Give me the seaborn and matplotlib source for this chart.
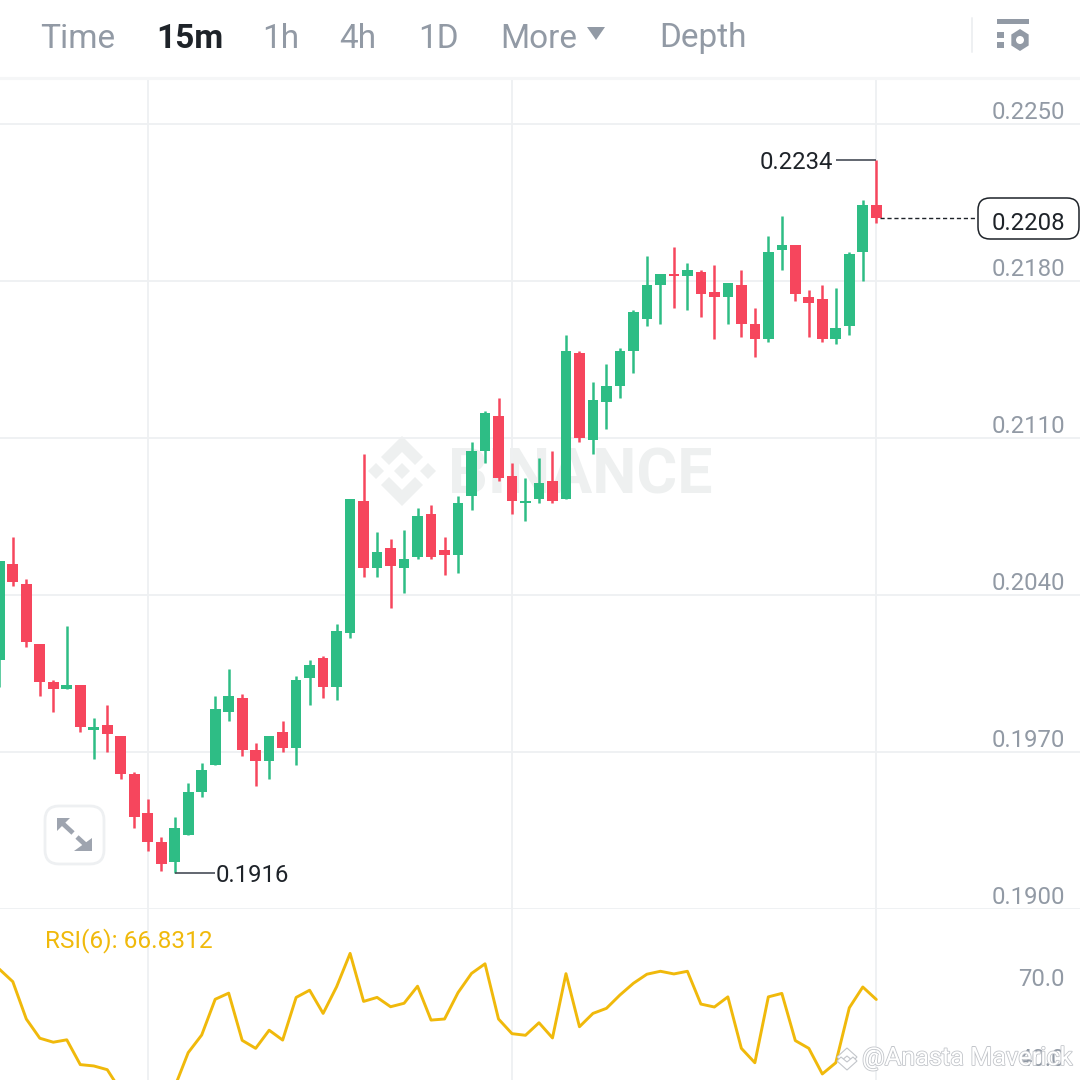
import numpy as np
import pandas as pd
import matplotlib
matplotlib.use("Agg")
import matplotlib.pyplot as plt
import matplotlib.patheffects as pe
from matplotlib.patches import FancyBboxPatch, Polygon, Rectangle, Circle
import seaborn as sns

# 15m candles
opens = [0.2011, 0.2054, 0.2045, 0.2018, 0.2001, 0.1998, 0.2000, 0.1980, 0.1982, 0.1977, 0.1960, 0.1943,
         0.1930, 0.1921, 0.1933, 0.1952, 0.1964, 0.1988, 0.1994, 0.1971, 0.1966, 0.1979, 0.1972, 0.2003,
         0.2012, 0.1999, 0.2023, 0.2082, 0.2052, 0.2061, 0.2052, 0.2057, 0.2076, 0.2060, 0.2058, 0.2084,
         0.2104, 0.2120, 0.2093, 0.2081, 0.2083, 0.2091, 0.2083, 0.2148, 0.2109, 0.2126, 0.2133, 0.2149,
         0.2163, 0.2178, 0.2183, 0.2182, 0.2184, 0.2175, 0.2173, 0.2178, 0.2161, 0.2154, 0.2194, 0.2196,
         0.2173, 0.2172, 0.2154, 0.2160, 0.2193, 0.2214]
highs = [0.2055, 0.2066, 0.2047, 0.2018, 0.2002, 0.2026, 0.2000, 0.1985, 0.1991, 0.1977, 0.1961, 0.1949,
         0.1932, 0.1941, 0.1956, 0.1965, 0.1995, 0.2007, 0.1996, 0.1974, 0.1977, 0.1984, 0.2004, 0.2011,
         0.2013, 0.2027, 0.2083, 0.2103, 0.2068, 0.2065, 0.2069, 0.2079, 0.2080, 0.2066, 0.2084, 0.2108,
         0.2122, 0.2128, 0.2099, 0.2092, 0.2101, 0.2104, 0.2156, 0.2149, 0.2135, 0.2143, 0.2150, 0.2167,
         0.2191, 0.2183, 0.2195, 0.2188, 0.2185, 0.2187, 0.2179, 0.2185, 0.2168, 0.2200, 0.2209, 0.2196,
         0.2176, 0.2178, 0.2177, 0.2193, 0.2216, 0.2234]
lows = [0.1999, 0.2044, 0.2017, 0.1995, 0.1988, 0.1998, 0.1979, 0.1967, 0.1970, 0.1958, 0.1936, 0.1926,
        0.1917, 0.1916, 0.1933, 0.1950, 0.1964, 0.1984, 0.1968, 0.1955, 0.1958, 0.1970, 0.1964, 0.1991,
        0.1994, 0.1993, 0.2021, 0.2048, 0.2048, 0.2034, 0.2041, 0.2056, 0.2056, 0.2049, 0.2050, 0.2078,
        0.2099, 0.2091, 0.2076, 0.2073, 0.2081, 0.2081, 0.2083, 0.2108, 0.2103, 0.2114, 0.2128, 0.2139,
        0.2160, 0.2161, 0.2168, 0.2167, 0.2164, 0.2154, 0.2161, 0.2155, 0.2146, 0.2153, 0.2185, 0.2171,
        0.2155, 0.2153, 0.2152, 0.2156, 0.2180, 0.2206]
closes = [0.2055, 0.2046, 0.2019, 0.2001, 0.1998, 0.2000, 0.1981, 0.1981, 0.1978, 0.1960, 0.1941, 0.1930,
          0.1920, 0.1936, 0.1952, 0.1962, 0.1989, 0.1995, 0.1971, 0.1966, 0.1977, 0.1972, 0.2002, 0.2009,
          0.1999, 0.2024, 0.2083, 0.2052, 0.2059, 0.2053, 0.2056, 0.2075, 0.2057, 0.2058, 0.2081, 0.2104,
          0.2121, 0.2092, 0.2082, 0.2082, 0.2090, 0.2082, 0.2149, 0.2110, 0.2127, 0.2133, 0.2149, 0.2166,
          0.2178, 0.2183, 0.2182, 0.2185, 0.2174, 0.2173, 0.2179, 0.2161, 0.2154, 0.2193, 0.2196, 0.2174,
          0.2170, 0.2154, 0.2159, 0.2192, 0.2214, 0.2208]
rsi6 = [78.2, 73.5, 59.5, 52.3, 50.8, 51.7, 42.4, 41.9, 40.5, 32.6, 26.0, 22.0, 20.0, 34.0, 46.9, 53.5,
        66.9, 69.2, 51.5, 48.5, 55.3, 51.6, 67.6, 70.3, 61.6, 71.6, 84.1, 66.1, 67.6, 64.1, 65.4, 71.8,
        59.1, 59.5, 69.4, 76.6, 80.2, 59.5, 54.0, 53.4, 58.1, 52.4, 76.5, 56.6, 61.6, 63.5, 68.5, 72.9,
        76.3, 77.4, 76.4, 77.4, 65.1, 64.0, 67.8, 48.5, 43.1, 67.8, 69.1, 51.4, 48.5, 38.9, 43.1, 63.7,
        71.5, 66.83]

price_ticks = [0.2250, 0.2180, 0.2110, 0.2040, 0.1970, 0.1900]
rsi_ticks = [70.0, 40.0]
time_grid = [11, 38, 65]
tabs = ["Time", "15m", "1h", "4h", "1D", "More", "Depth"]
tab_x = [40, 156, 262, 339, 418, 500, 659]

GREEN = "#2EBD85"
RED = "#F6465D"
YELLOW = "#F0B90B"
GRID = "#EEF0F2"
GREY = "#929AA5"
DARK = "#1E2329"
FONT = "Roboto"
XLIM = (0.05, 80.1)

sns.set_theme(style="white", rc={"axes.facecolor": "none"})
plt.rcParams["font.family"] = [FONT, "DejaVu Sans"]

df = pd.DataFrame({"open": opens, "high": highs, "low": lows, "close": closes, "rsi": rsi6})
df["idx"] = np.arange(len(df))
df["up"] = df["close"] >= df["open"]
df["color"] = df["up"].map({True: GREEN, False: RED})


def pixel_axes(fig, zorder):
    ax = fig.add_axes([0, 0, 1, 1], zorder=zorder)
    ax.set_xlim(0, 1080)
    ax.set_ylim(1080, 0)
    ax.axis("off")
    return ax


def draw_watermark(ax):
    # logo + BINANCE behind the candles
    col = "#EEF0F0"
    cx, cy = 402, 471
    for dx in (-26, 0, 26):
        ax.add_patch(Polygon([(cx + dx, cy - 8), (cx + dx + 8, cy), (cx + dx, cy + 8), (cx + dx - 8, cy)], color=col, lw=0))
    for s in (-1, 1):
        pts = [(0, 35), (21, 14), (13, 6), (0, 19), (-13, 6), (-21, 14)]
        ax.add_patch(Polygon([(cx + a, cy + s * b) for a, b in pts], color=col, lw=0))
    ax.text(448, 476, "BINANCE", color=col, fontsize=45, fontweight="bold", va="center", ha="left", family=FONT)


def draw_header(ax):
    for name, x in zip(tabs, tab_x):
        active = name == "15m"
        ax.text(x, 38.5, name, fontsize=24, ha="left", va="center", color=DARK if active else GREY,
                fontweight="bold" if active else "normal")
    ax.add_patch(Polygon([(587, 27), (605, 27), (596, 40)], color=GREY, lw=0))
    ax.plot([0, 1080], [77.5, 77.5], color="#F5F6F7", lw=2.2)
    ax.plot([972, 972], [18, 52], color=GRID, lw=1.4)
    # settings icon
    ax.add_patch(Rectangle((997, 19), 32, 5, color=GREY, lw=0))
    ax.add_patch(Rectangle((997, 32), 7, 6, color=GREY, lw=0))
    ax.add_patch(Rectangle((997, 42), 7, 6, color=GREY, lw=0))
    hexagon = [(1020 + 10 * np.sin(a), 40 + 11 * np.cos(a)) for a in np.linspace(0, 2 * np.pi, 7)[:-1]]
    ax.add_patch(Polygon(hexagon, color=GREY, lw=0))
    ax.add_patch(Circle((1020, 40), 4, color="white", lw=0))


def draw_expand_button(ax):
    ax.add_patch(FancyBboxPatch((57, 818), 35, 34, boxstyle="round,pad=12,rounding_size=14",
                                fc="white", ec=GRID, lw=2))
    ax.add_patch(Polygon([(57, 818), (70, 818), (57, 831)], color="#9EA4AF", lw=0))
    ax.add_patch(Polygon([(92, 851), (92, 838), (74, 851)], color="#9EA4AF", lw=0))
    ax.plot([60, 73], [821, 833], color="#9EA4AF", lw=3.4, solid_capstyle="butt")
    ax.plot([77, 89], [837, 848], color="#9EA4AF", lw=3.4, solid_capstyle="butt")


def draw_candles(ax):
    ax.vlines(df["idx"], df["low"], df["high"], colors=df["color"], lw=1.8, zorder=3)
    ax.bar(df["idx"], (df["close"] - df["open"]).abs(), bottom=df[["open", "close"]].min(axis=1),
           width=0.79, color=df["color"], lw=0, zorder=3)


def axis_label(ax, text, val):
    ax.annotate(text, xy=(1065 / 1080, val), xycoords=ax.get_yaxis_transform(), xytext=(0, 8.5),
                textcoords="offset points", ha="right", va="center", fontsize=17.2, color=GREY)


fig = plt.figure(figsize=(10.8, 10.8), dpi=100, facecolor="white")
back = pixel_axes(fig, 0)
draw_watermark(back)

# price panel, 78..909 px
ax = fig.add_axes([0, 171 / 1080, 1, 831 / 1080], zorder=1)
ax.set_xlim(*XLIM)
ax.set_ylim(0.1900, 0.22705)
ax.set_yticks(price_ticks)
ax.set_xticks(time_grid)
ax.tick_params(left=False, bottom=False, labelleft=False, labelbottom=False)
ax.grid(True, color=GRID, lw=1.3)
ax.set_axisbelow(True)
sns.despine(ax=ax, left=True, bottom=True)
draw_candles(ax)
for val in price_ticks:
    axis_label(ax, f"{val:.4f}", val)

hi_i = int(df["high"].idxmax())
lo_i = int(df["low"].idxmin())
ax.hlines(df["high"][hi_i], hi_i - 3, hi_i, color="#474D57", lw=1.2, zorder=4)
ax.annotate(f"{df['high'][hi_i]:.4f}", xy=(hi_i - 3, df["high"][hi_i]), xytext=(-2, -2), textcoords="offset points",
            ha="right", va="center", fontsize=17.2, color=DARK)
ax.hlines(df["low"][lo_i], lo_i, lo_i + 3, color="#474D57", lw=1.2, zorder=4)
ax.annotate(f"{df['low'][lo_i]:.4f}", xy=(lo_i + 3, df["low"][lo_i]), xytext=(0.5, -2), textcoords="offset points",
            ha="left", va="center", fontsize=17.2, color=DARK)
ax.hlines(closes[-1], len(df) - 0.75, 72.4, color=DARK, lw=1.0, linestyles=(0, (3, 2)), zorder=4)

# RSI panel, 909..1080 px
ax_rsi = fig.add_axes([0, 0, 1, 171 / 1080], zorder=1)
sns.lineplot(data=df, x="idx", y="rsi", ax=ax_rsi, color=YELLOW, lw=2.1, legend=False)
ax_rsi.set_xlim(*XLIM)
ax_rsi.set_ylim(36.63, 100.75)
ax_rsi.set_xticks(time_grid)
ax_rsi.set_yticks([])
ax_rsi.set_xlabel("")
ax_rsi.set_ylabel("")
ax_rsi.tick_params(bottom=False, labelbottom=False)
ax_rsi.grid(True, axis="x", color=GRID, lw=1.3)
ax_rsi.set_axisbelow(True)
sns.despine(ax=ax_rsi, left=True, bottom=True)
for val in rsi_ticks:
    axis_label(ax_rsi, f"{val:.1f}", val)
ax_rsi.text(45 / 1080, 0.814, f"RSI(6): {66.8312:.4f}", transform=ax_rsi.transAxes, color=YELLOW,
            fontsize=17.6, ha="left", va="center")

ui = pixel_axes(fig, 5)
draw_header(ui)
draw_expand_button(ui)

# current price tag
ui.add_patch(FancyBboxPatch((986, 206), 85, 25, boxstyle="round,pad=8,rounding_size=12", fc="white", ec=DARK, lw=1.1))
ui.text(1028, 224, f"{closes[-1]:.4f}", ha="center", va="center", fontsize=17.2, color=DARK)

# repost watermark
stroke = [pe.withStroke(linewidth=1.2, foreground="#C2C5CA")]
ui.text(862, 1058, "@Anasta Maverick", fontsize=18.2, ha="left", va="center", color="white", path_effects=stroke)
for s in (-1, 1):
    pts = [(0, 11), (10, 2), (6, -2), (0, 3), (-6, -2), (-10, 2)]
    ui.add_patch(Polygon([(847 + a, 1059 + s * b) for a, b in pts], fc="white", ec="#C2C5CA", lw=0.8))

fig.savefig("out.png", dpi=100)
